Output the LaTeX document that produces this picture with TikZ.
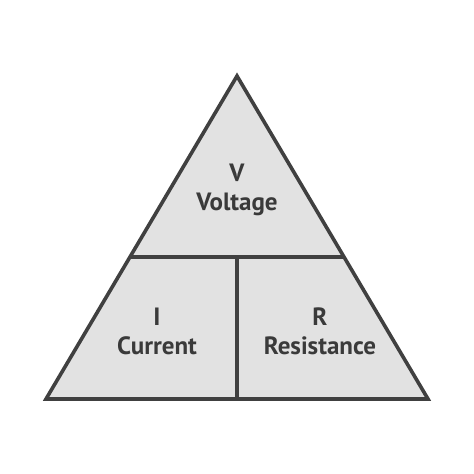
\documentclass[tikz,border=0pt]{standalone}
\usepackage{fontspec}
\setmainfont{PT Sans}
\usepackage{xcolor}
\usepackage{tikz}
\usetikzlibrary{calc}
\definecolor{edgegrey}{HTML}{404040}
\definecolor{fillgrey}{HTML}{E2E2E2}
\definecolor{textgrey}{HTML}{3A3A3A}
\tikzset{
 part/.style = {draw=edgegrey, line width=3.6pt},
 sym/.style  = {text=textgrey, anchor=base, inner sep=0pt, font=\fontsize{25}{28}\selectfont\bfseries},
}

\begin{document}
\begin{tikzpicture} [x=1pt,y=-1pt]
\useasboundingbox[fill=white] (0,0) rectangle (474,474);
\coordinate (top) at (237,76);
\coordinate (bl) at (46,399);
\coordinate (br) at (428,399);
\coordinate (ml) at ($(top)!{(257-76)/(399-76)}!(bl)$);
\coordinate (mr) at ($(top)!{(257-76)/(399-76)}!(br)$);
\coordinate (mc) at (237,257);
\coordinate (bc) at (237,399);
\filldraw[part, fill=fillgrey] (top) -- (bl) -- (br) -- cycle;
\draw[part] (ml) -- (mr);
\draw[part] (mc) -- (bc);
% labels
\foreach \nm/\x/\y/\sy/\word in {v/237/181/V/Voltage, i/157/325/I/Current, r/320/325/R/Resistance} {
 \node[sym] (\nm) at (\x,\y) {\sy};
 \node[sym] (\nm word) at (\x,\y+29) {\word};
}
\end{tikzpicture}
\end{document}
